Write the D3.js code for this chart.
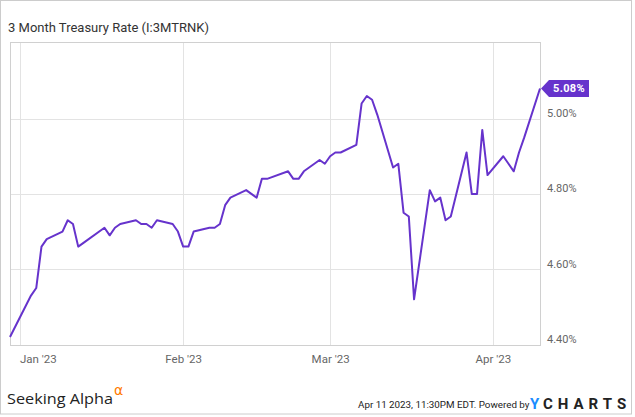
<!DOCTYPE html>
<html>
<head>
<meta charset="utf-8">
<script src="https://cdn.jsdelivr.net/npm/d3@7"></script>
<style>
  body { margin: 0; background: #fff; }
  svg { display: block; font-family: Roboto, "Noto Sans", sans-serif; }
</style>
</head>
<body>
<div id="chart"></div>
<script>
// 3 Month Treasury Rate, daily closes
const dates = [
  "2022-12-30", "2023-01-03", "2023-01-04", "2023-01-05", "2023-01-06",
  "2023-01-09", "2023-01-10", "2023-01-11", "2023-01-12", "2023-01-13",
  "2023-01-17", "2023-01-18", "2023-01-19", "2023-01-20", "2023-01-23",
  "2023-01-24", "2023-01-25", "2023-01-26", "2023-01-27", "2023-01-30",
  "2023-01-31", "2023-02-01", "2023-02-02", "2023-02-03", "2023-02-06",
  "2023-02-07", "2023-02-08", "2023-02-09", "2023-02-10", "2023-02-13",
  "2023-02-14", "2023-02-15", "2023-02-16", "2023-02-17", "2023-02-21",
  "2023-02-22", "2023-02-23", "2023-02-24", "2023-02-27", "2023-02-28",
  "2023-03-01", "2023-03-02", "2023-03-03", "2023-03-06", "2023-03-07",
  "2023-03-08", "2023-03-09", "2023-03-10", "2023-03-13", "2023-03-14",
  "2023-03-15", "2023-03-16", "2023-03-17", "2023-03-20", "2023-03-21",
  "2023-03-22", "2023-03-23", "2023-03-24", "2023-03-27", "2023-03-28",
  "2023-03-29", "2023-03-30", "2023-03-31", "2023-04-03", "2023-04-04",
  "2023-04-05", "2023-04-06", "2023-04-07", "2023-04-10"
];
const rates = [
  4.42, 4.53, 4.55, 4.66, 4.68,
  4.70, 4.73, 4.72, 4.66, 4.67,
  4.71, 4.69, 4.71, 4.72, 4.73,
  4.72, 4.72, 4.71, 4.73, 4.72,
  4.70, 4.66, 4.66, 4.70, 4.71,
  4.71, 4.72, 4.77, 4.79, 4.81,
  4.80, 4.79, 4.84, 4.84, 4.86,
  4.84, 4.84, 4.86, 4.89, 4.88,
  4.90, 4.91, 4.91, 4.93, 5.04,
  5.06, 5.05, 5.01, 4.87, 4.88,
  4.75, 4.74, 4.52, 4.81, 4.78,
  4.79, 4.73, 4.74, 4.91, 4.80,
  4.80, 4.97, 4.85, 4.90, 4.88,
  4.86, 4.91, 4.95, 5.08
];
const yTicks = [4.40, 4.60, 4.80, 5.00];
const xTicks = ["2023-01-01", "2023-02-01", "2023-03-01", "2023-04-01"];
const xDomain = ["2022-12-30", "2023-04-10"];
const yDomain = [4.40, 5.20];

const width = 635, height = 417;
const plot = { left: 10, right: 540, top: 42, bottom: 345 };
const purple = "#6633cc";
const parse = d3.timeParse("%Y-%m-%d");

const data = dates.map((d, i) => ({ date: parse(d), value: rates[i] }));

const svg = d3.select("#chart").append("svg")
    .attr("width", width)
    .attr("height", height);

// outer frame
svg.append("rect")
    .attr("x", 0.5).attr("y", 0.5)
    .attr("width", width - 4).attr("height", height - 3.5)
    .attr("fill", "none")
    .attr("stroke", "#ccc");

svg.append("text")
    .attr("x", 8).attr("y", 32)
    .style("font-size", "13px")
    .style("fill", "#333")
    .text("3 Month Treasury Rate (I:3MTRNK)");

const x = d3.scaleTime()
    .domain(xDomain.map(parse))
    .range([plot.left, plot.right]);

const y = d3.scaleLinear()
    .domain(yDomain)
    .range([plot.bottom - 0.5, plot.top + 1.3]);

// gridlines
svg.append("g")
    .selectAll("line.hgrid")
    .data(yTicks)
    .enter().append("line")
    .attr("x1", plot.left).attr("x2", plot.right)
    .attr("y1", d => Math.round(y(d)) + 0.5)
    .attr("y2", d => Math.round(y(d)) + 0.5)
    .attr("stroke", "#e3e3e3");

svg.append("g")
    .selectAll("line.vgrid")
    .data(xTicks.map(parse))
    .enter().append("line")
    .attr("x1", d => Math.round(x(d)) + 0.5)
    .attr("x2", d => Math.round(x(d)) + 0.5)
    .attr("y1", plot.top).attr("y2", plot.bottom)
    .attr("stroke", "#e3e3e3");

// plot frame
svg.append("rect")
    .attr("x", plot.left + 0.5).attr("y", plot.top + 0.5)
    .attr("width", plot.right - plot.left)
    .attr("height", plot.bottom - plot.top)
    .attr("fill", "none")
    .attr("stroke", "#d0d0d0");

// y axis (right)
const yAxis = svg.append("g")
    .attr("transform", `translate(${plot.right + 7},0)`)
    .call(d3.axisRight(y)
        .tickValues(yTicks)
        .tickSize(0)
        .tickPadding(0)
        .tickFormat(d => d.toFixed(2) + "%"));
yAxis.select(".domain").remove();
yAxis.selectAll("text")
    .attr("dy", "-0.2em")
    .style("font-family", "Roboto, sans-serif")
    .style("font-size", "11px")
    .style("fill", "#666");

// x axis
const xAxis = svg.append("g")
    .attr("transform", `translate(0,${plot.bottom})`)
    .call(d3.axisBottom(x)
        .tickValues(xTicks.map(parse))
        .tickSize(0)
        .tickPadding(10)
        .tickFormat(d3.timeFormat("%b '%y")));
xAxis.select(".domain").remove();
xAxis.selectAll("text")
    .style("font-family", "Roboto, sans-serif")
    .style("font-size", "11.5px")
    .style("fill", "#666");
// first label is pushed right so it stays inside the plot
xAxis.selectAll(".tick")
    .filter((d, i) => i === 0)
    .select("text")
    .attr("text-anchor", "start")
    .attr("dx", -1);

// series line
const line = d3.line()
    .x(d => x(d.date))
    .y(d => y(d.value));

svg.append("path")
    .datum(data)
    .attr("d", line)
    .attr("fill", "none")
    .attr("stroke", purple)
    .attr("stroke-width", 2)
    .attr("stroke-linejoin", "round");

// last value flag
const last = data[data.length - 1];
const lx = x(last.date) + 1, ly = y(last.value);
svg.append("path")
    .attr("d", `M${lx},${ly} L${lx + 8},${ly - 8.5} H${lx + 48} V${ly + 8.5} H${lx + 8} Z`)
    .attr("fill", purple);
svg.append("text")
    .attr("x", lx + 28).attr("y", ly + 4)
    .attr("text-anchor", "middle")
    .style("font-size", "11px")
    .style("font-weight", "bold")
    .style("fill", "#fff")
    .style("letter-spacing", "0.3px")
    .text(last.value.toFixed(2) + "%");

// footer
svg.append("text")
    .attr("x", 7).attr("y", 403.5)
    .attr("textLength", 106)
    .attr("lengthAdjust", "spacingAndGlyphs")
    .style("font-family", "'Open Sans', sans-serif")
    .style("font-size", "15px")
    .style("fill", "#222")
    .text("Seeking Alpha");
svg.append("text")
    .attr("x", 114).attr("y", 395)
    .style("font-family", "'DejaVu Sans', sans-serif")
    .style("font-size", "14px")
    .style("fill", "#ff7a00")
    .text("α");

svg.append("text")
    .attr("x", 358).attr("y", 408)
    .style("font-size", "9.8px")
    .style("fill", "#222")
    .text("Apr 11 2023, 11:30PM EDT.  Powered by");

svg.append("text")
    .attr("x", 530).attr("y", 409)
    .style("font-size", "15px")
    .style("font-weight", "bold")
    .style("fill", "#1a8cff")
    .text("Y");
svg.append("text")
    .attr("x", 543).attr("y", 409)
    .style("font-size", "15px")
    .style("font-weight", "bold")
    .style("letter-spacing", "5px")
    .style("fill", "#222")
    .text("CHARTS");
</script>
</body>
</html>
